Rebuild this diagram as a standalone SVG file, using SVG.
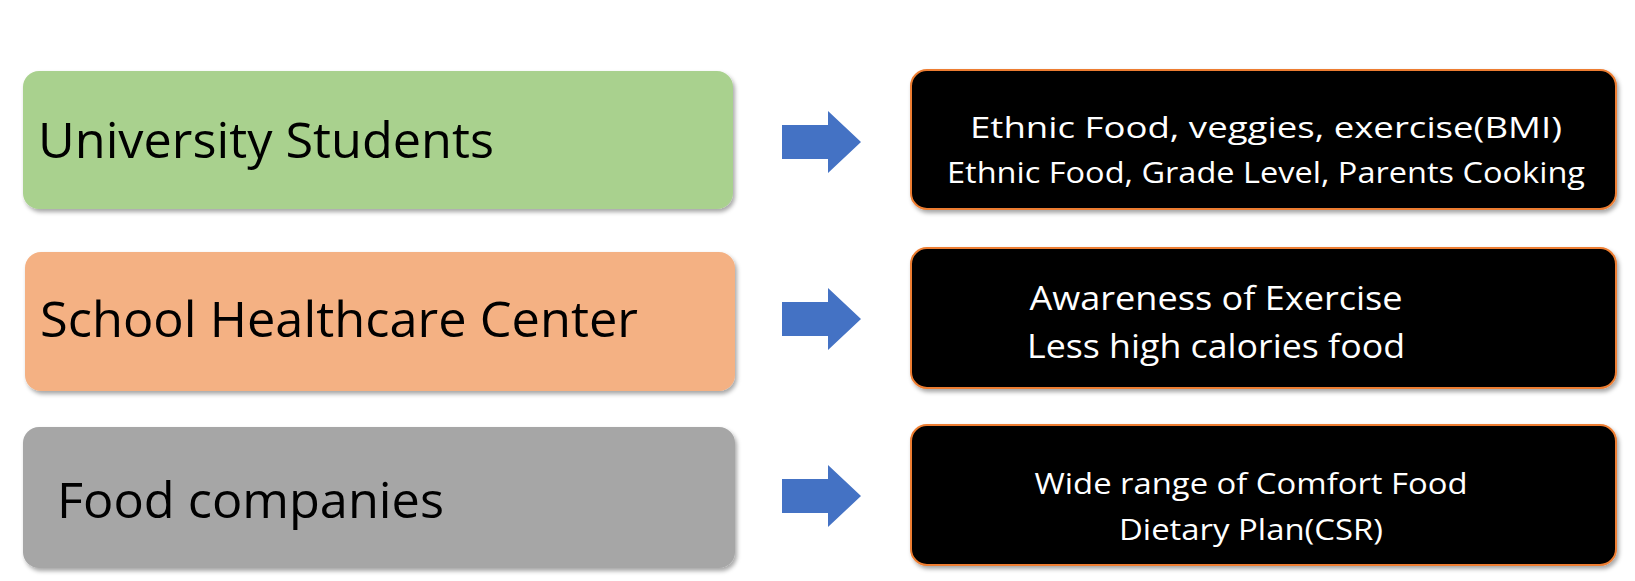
<svg xmlns="http://www.w3.org/2000/svg" width="1635" height="581" viewBox="0 0 1635 581">
<style>
.l{font-family:"Open Sans","Liberation Sans",sans-serif;font-size:50px;fill:#000}
.r{font-family:"Open Sans","Liberation Sans",sans-serif;fill:#fff;text-anchor:middle}
.b{stroke:#ed7d31;stroke-width:2;fill:#000}
.a{fill:#4472c4}
</style>
<defs><filter id="s" x="-5%" y="-5%" width="110%" height="115%"><feDropShadow dx="2" dy="3" stdDeviation="2" flood-opacity="0.35"/></filter></defs>
<rect width="1635" height="581" fill="#fff"/>
<g id="n1"><rect x="23" y="71" width="710" height="138" rx="16" fill="#a9d18e" filter="url(#s)"/><text class="l" x="38" y="158" textLength="456" lengthAdjust="spacingAndGlyphs">University Students</text></g>
<g id="n2"><rect x="25" y="252" width="710" height="139" rx="16" fill="#f4b183" filter="url(#s)"/><text class="l" x="40" y="337" textLength="598" lengthAdjust="spacingAndGlyphs">School Healthcare Center</text></g>
<g id="n3"><rect x="23" y="427" width="712" height="141" rx="16" fill="#a6a6a6" filter="url(#s)"/><text class="l" x="57" y="518" textLength="387" lengthAdjust="spacingAndGlyphs">Food companies</text></g>
<g id="m1"><rect class="b" x="911" y="70" width="705" height="139" rx="16" filter="url(#s)"/>
<text class="r" x="1266" y="138" font-size="29" textLength="592" lengthAdjust="spacingAndGlyphs">Ethnic Food, veggies, exercise(BMI)</text>
<text class="r" x="1266" y="183" font-size="29" textLength="638" lengthAdjust="spacingAndGlyphs">Ethnic Food, Grade Level, Parents Cooking</text></g>
<g id="m2"><rect class="b" x="911" y="248" width="705" height="140" rx="16" filter="url(#s)"/>
<text class="r" x="1216" y="310" font-size="33" textLength="373" lengthAdjust="spacingAndGlyphs">Awareness of Exercise</text>
<text class="r" x="1216" y="358" font-size="33" textLength="378" lengthAdjust="spacingAndGlyphs">Less high calories food</text></g>
<g id="m3"><rect class="b" x="911" y="425" width="705" height="140" rx="16" filter="url(#s)"/>
<text class="r" x="1251" y="494" font-size="30" textLength="433" lengthAdjust="spacingAndGlyphs">Wide range of Comfort Food</text>
<text class="r" x="1251" y="540" font-size="30" textLength="264" lengthAdjust="spacingAndGlyphs">Dietary Plan(CSR)</text></g>
<g id="connectors">
<polygon class="a" points="782,125 828,125 828,111 861,142 828,173 828,159 782,159"/>
<polygon class="a" points="782,302 828,302 828,288 861,319 828,350 828,336 782,336"/>
<polygon class="a" points="782,479 828,479 828,465 861,496 828,527 828,513 782,513"/>
</g>
</svg>
